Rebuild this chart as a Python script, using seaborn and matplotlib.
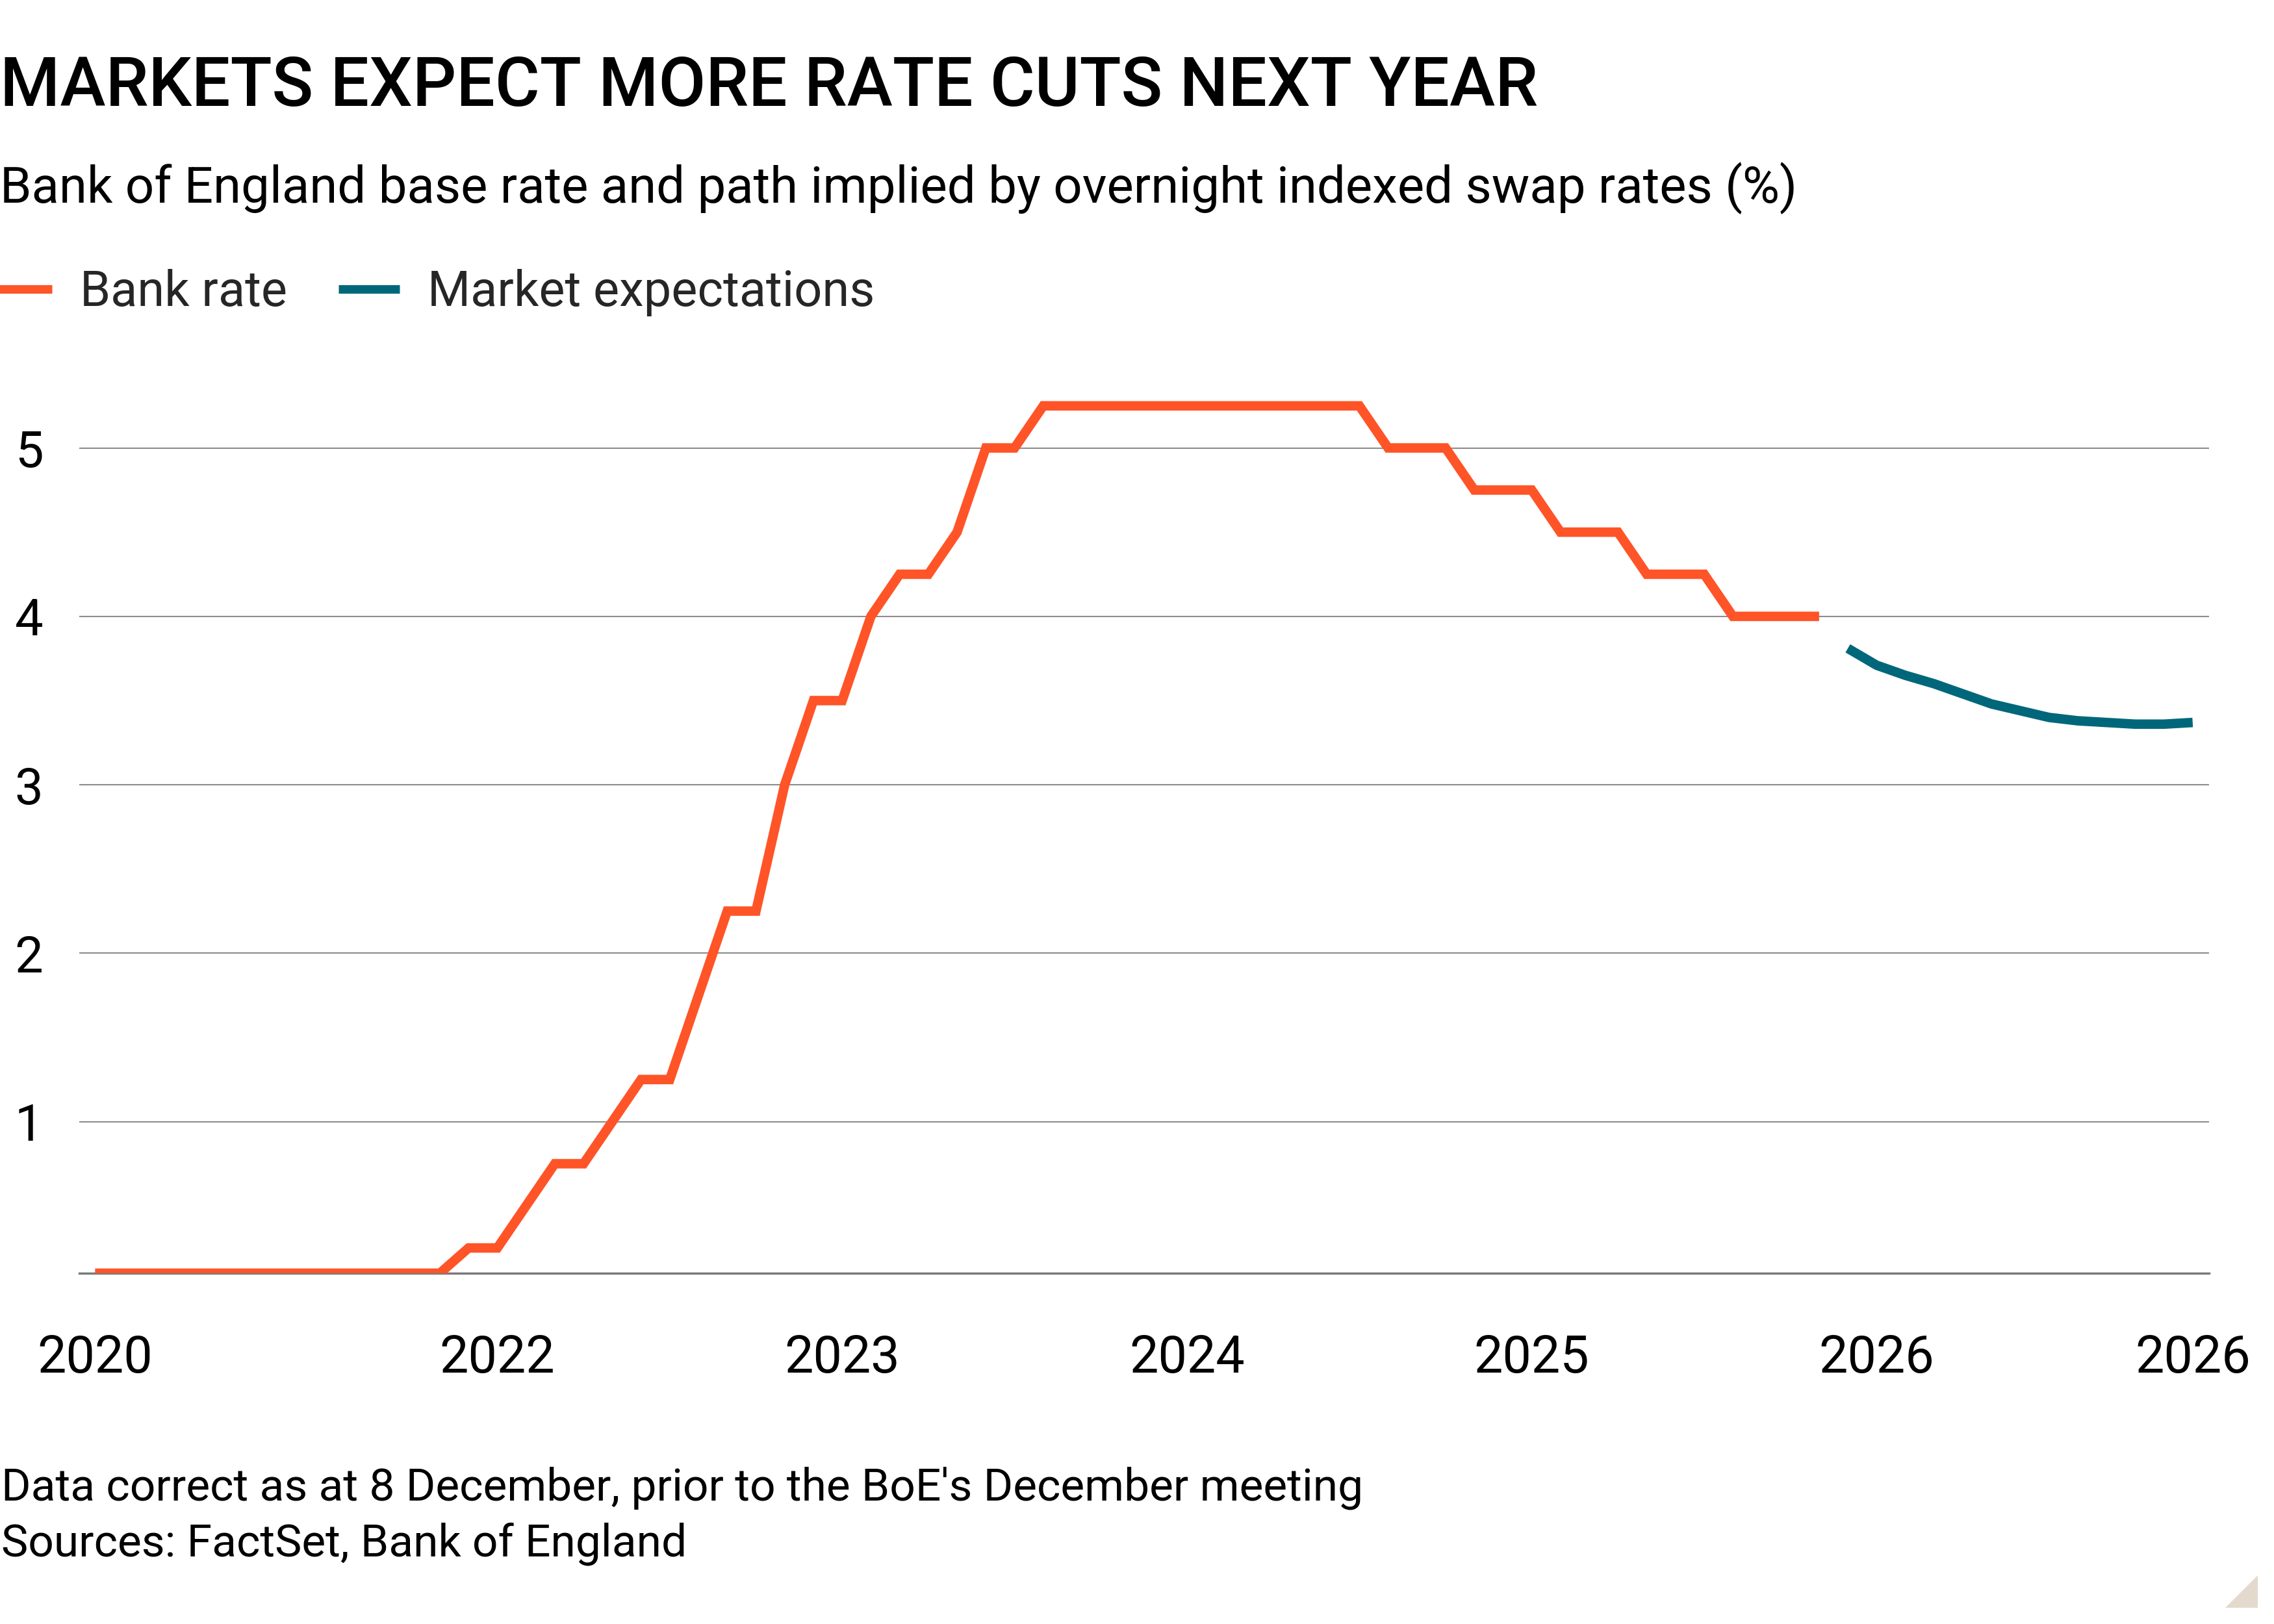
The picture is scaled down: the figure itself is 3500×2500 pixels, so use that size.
import matplotlib
matplotlib.use("Agg")
import matplotlib.pyplot as plt
from matplotlib.patches import Polygon
import seaborn as sns
import pandas as pd
import numpy as np

# ---------------- data ----------------
# x axis: monthly index, 0 = Nov 2020 ... 73 = Dec 2026
bank_months = list(range(0, 61))  # Nov 2020 .. Nov 2025
bank_rate = [
    0.1, 0.1,                                                    # Nov-Dec 2020
    0.1, 0.1, 0.1, 0.1, 0.1, 0.1, 0.1, 0.1, 0.1, 0.1, 0.1, 0.25,  # 2021
    0.25, 0.5, 0.75, 0.75, 1.0, 1.25, 1.25, 1.75, 2.25, 2.25, 3.0, 3.5,  # 2022
    3.5, 4.0, 4.25, 4.25, 4.5, 5.0, 5.0, 5.25, 5.25, 5.25, 5.25, 5.25,   # 2023
    5.25, 5.25, 5.25, 5.25, 5.25, 5.25, 5.25, 5.0, 5.0, 5.0, 4.75, 4.75, # 2024
    4.75, 4.5, 4.5, 4.5, 4.25, 4.25, 4.25, 4.0, 4.0, 4.0, 4.0,           # Jan-Nov 2025
]
market_months = list(range(61, 74))  # Dec 2025 .. Dec 2026
market_rate = [3.81, 3.71, 3.65, 3.60, 3.54, 3.48, 3.44, 3.40, 3.38, 3.37, 3.36, 3.36, 3.37]

series_names = ["Bank rate", "Market expectations"]
series_colors = ["#FF5427", "#00677A"]

major_tick_pos = [0, 2, 14, 26, 38, 50, 62, 73]
major_tick_labels = ["2020", "", "2022", "2023", "2024", "2025", "2026", "2026"]
minor_tick_pos = list(range(0, 74))
y_ticks = [1, 2, 3, 4, 5]
y_tick_labels = ["1", "2", "3", "4", "5"]

title = "MARKETS EXPECT MORE RATE CUTS NEXT YEAR"
subtitle = "Bank of England base rate and path implied by overnight indexed swap rates (%)"
note1 = "Data correct as at 8 December, prior to the BoE's December meeting"
note2 = "Sources: FactSet, Bank of England"

# ---------------- style ----------------
sns.set_theme(style="white")
plt.rcParams["font.family"] = ["Roboto", "DejaVu Sans"]

W, H = 3500, 2500
DPI = 100
fig = plt.figure(figsize=(W / DPI, H / DPI), dpi=DPI, facecolor="white")

def fx(px):
    return px / W

def fy(py):
    return 1 - py / H

ax_left, ax_right = 122, 3400
ax_top, ax_bottom = 534, 1960
ax = fig.add_axes([fx(ax_left), fy(ax_bottom), (ax_right - ax_left) / W, (ax_bottom - ax_top) / H])
ax.set_facecolor("white")

df = pd.concat([
    pd.DataFrame({"month": bank_months, "rate": bank_rate, "series": series_names[0]}),
    pd.DataFrame({"month": market_months, "rate": market_rate, "series": series_names[1]}),
], ignore_index=True)

sns.lineplot(data=df, x="month", y="rate", hue="series", hue_order=series_names,
             palette=series_colors, linewidth=10.5, ax=ax, legend=False, zorder=5,
             solid_capstyle="butt", solid_joinstyle="miter")

ax.set_xlim(-0.55, 73.57)
ax.set_ylim(0.1, 5.6)
ax.set_xlabel("")
ax.set_ylabel("")

# grid
ax.set_yticks(y_ticks)
ax.set_yticklabels(y_tick_labels)
ax.yaxis.grid(True, color="#8c8c8c", linewidth=1.5)
ax.xaxis.grid(False)
ax.set_axisbelow(True)

for s in ["top", "right", "left"]:
    ax.spines[s].set_visible(False)
ax.spines["bottom"].set_color("#7a7a7a")
ax.spines["bottom"].set_linewidth(2.5)

ax.set_xticks(major_tick_pos)
ax.set_xticklabels(major_tick_labels)
ax.set_xticks(minor_tick_pos, minor=True)
ax.tick_params(axis="x", which="major", length=43, width=1.2, color="#7a7a7a",
               labelsize=57, pad=24, labelcolor="black", direction="out")
ax.tick_params(axis="x", which="minor", length=29, width=1.2, color="#7a7a7a", direction="out")
ax.tick_params(axis="y", which="both", length=0, labelsize=56, pad=40, labelcolor="black")

# legend
handles = ax.get_lines()[:2]
leg = fig.legend(handles, series_names, loc="upper left", bbox_to_anchor=(fx(-14), fy(414)),
                 ncol=2, frameon=False, fontsize=54.5, handlelength=1.24, handletextpad=0.57,
                 columnspacing=1.04, borderaxespad=0, borderpad=0)
for lh in leg.get_lines():
    lh.set_linewidth(9.5)
    lh.set_solid_capstyle("butt")

# titles & notes
fig.text(fx(0), fy(163), title, fontsize=76, fontweight="medium", color="black", va="baseline", ha="left")
fig.text(fx(0), fy(312), subtitle, fontsize=56.2, color="black", va="baseline", ha="left")
fig.text(fx(2), fy(2310), note1, fontsize=50, color="black", va="baseline", ha="left")
fig.text(fx(2), fy(2395), note2, fontsize=50, color="black", va="baseline", ha="left")

# corner decoration
tri = Polygon([[fx(3425), fy(2475)], [fx(3475), fy(2425)], [fx(3475), fy(2475)]],
              closed=True, transform=fig.transFigure, facecolor="#E4D9CD", edgecolor="none")
fig.patches.append(tri)

fig.savefig("out.png", dpi=DPI, facecolor="white")
